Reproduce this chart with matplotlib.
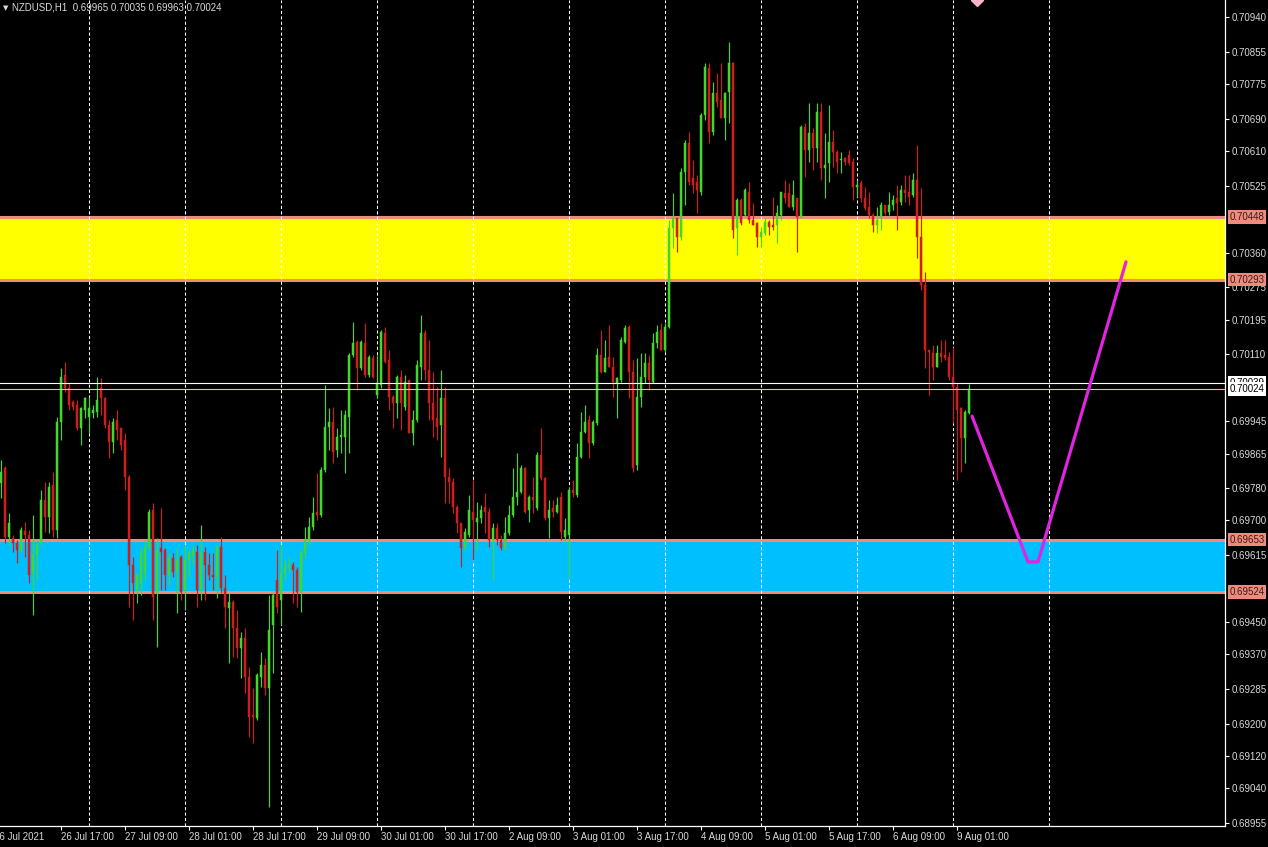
import numpy as np
import matplotlib
matplotlib.use("Agg")
import matplotlib.pyplot as plt
import matplotlib.transforms as mtransforms
import pandas as pd

plt.rcParams['font.family'] = ['Liberation Sans', 'DejaVu Sans']

# ---------------- data (prices in points, 1 point = 0.00001) ----------------
SYMBOL = "NZDUSD,H1"

opens_pts = [
    69792, 69829, 69659, 69657, 69645, 69627, 69674, 69664, 69571, 69615,
    69645, 69750, 69709, 69787, 69677, 69943, 70058, 70026, 69992, 69984,
    69928, 69972, 69955, 69965, 69967, 70026, 70002, 69935, 69893, 69948,
    69928, 69898, 69807, 69590, 69529, 69546, 69571, 69635, 69726, 69521,
    69632, 69627, 69566, 69608, 69573, 69610, 69529, 69603, 69615, 69622,
    69529, 69622, 69590, 69566, 69561, 69635, 69534, 69484, 69499, 69435,
    69386, 69411, 69315, 69221, 69214, 69315, 69344, 69288, 69443, 69553,
    69504, 69571, 69585, 69590, 69578, 69524, 69620, 69652, 69684, 69721,
    69714, 69824, 69930, 69943, 69874, 69906, 69906, 69955, 70108, 70140,
    70076, 70137, 70058, 70100, 70009, 70034, 70162, 70095, 70004, 69989,
    70053, 69980, 70046, 69915, 69948, 70078, 70162, 70071, 69989, 69952,
    69935, 70002, 69807, 69795, 69733, 69694, 69635, 69664, 69721, 69696,
    69706, 69733, 69721, 69652, 69682, 69652, 69632, 69669, 69714, 69758,
    69770, 69829, 69726, 69758, 69731, 69861, 69805, 69706, 69731, 69721,
    69758, 69659, 69664, 69775, 69763, 69856, 69918, 69948, 69891, 69940,
    70108, 70066, 70103, 70078, 70039, 70046, 70140, 70177, 70066, 69837,
    70004, 70053, 70088, 70041, 70137, 70169, 70120, 70177, 70420, 70445,
    70398, 70558, 70630, 70544, 70534, 70509, 70699, 70815, 70657, 70753,
    70736, 70691, 70755, 70827, 70420, 70489, 70452, 70509, 70440, 70433,
    70398, 70408, 70435, 70428, 70428, 70452, 70507, 70507, 70472, 70494,
    70448, 70669, 70613, 70654, 70618, 70706, 70568, 70581, 70632, 70608,
    70588, 70593, 70600, 70583, 70521, 70531, 70494, 70472, 70452, 70428,
    70448, 70477, 70460, 70477, 70494, 70484, 70514, 70509, 70502, 70539,
    70398, 70280, 70120, 70113, 70078, 70113, 70108, 70103, 70053, 70029,
    69977, 69903, 69965,
]

highs_pts = [
    69849, 69834, 69719, 69664, 69652, 69684, 69696, 69677, 69714, 69652,
    69775, 69795, 69795, 69820, 69955, 70076, 70090, 70039, 69997, 69997,
    69980, 70004, 70004, 69984, 70053, 70051, 70004, 69948, 69952, 69972,
    69928, 69915, 69812, 69610, 69571, 69635, 69652, 69728, 69743, 69657,
    69731, 69632, 69620, 69620, 69632, 69615, 69640, 69627, 69640, 69640,
    69689, 69635, 69620, 69620, 69640, 69659, 69566, 69521, 69504, 69480,
    69425, 69435, 69339, 69288, 69324, 69376, 69361, 69516, 69521, 69627,
    69640, 69603, 69610, 69598, 69585, 69627, 69684, 69709, 69758, 69817,
    69832, 70034, 69977, 69980, 69928, 69972, 69972, 70113, 70189, 70145,
    70145, 70186, 70108, 70108, 70108, 70169, 70177, 70120, 70009, 70058,
    70071, 70058, 70046, 69972, 70095, 70206, 70169, 70145, 70066, 70029,
    70071, 70029, 69829, 69805, 69738, 69694, 69682, 69763, 69800, 69746,
    69738, 69768, 69731, 69694, 69694, 69664, 69709, 69738, 69829, 69866,
    69837, 69832, 69763, 69807, 69869, 69928, 69807, 69750, 69750, 69758,
    69770, 69706, 69783, 69800, 69891, 69967, 69984, 69960, 69948, 70125,
    70169, 70145, 70181, 70103, 70053, 70152, 70181, 70181, 70095, 70100,
    70113, 70113, 70108, 70162, 70181, 70186, 70186, 70440, 70507, 70445,
    70568, 70637, 70657, 70588, 70551, 70704, 70827, 70827, 70780, 70802,
    70827, 70755, 70879, 70829, 70494, 70494, 70519, 70534, 70482, 70435,
    70423, 70445, 70440, 70497, 70477, 70509, 70539, 70531, 70539, 70494,
    70674, 70679, 70728, 70667, 70728, 70728, 70654, 70723, 70662, 70613,
    70608, 70595, 70613, 70593, 70539, 70539, 70521, 70509, 70457, 70472,
    70484, 70477, 70509, 70502, 70526, 70526, 70551, 70551, 70556, 70625,
    70519, 70312, 70120, 70132, 70132, 70145, 70145, 70115, 70127, 70039,
    69980, 69972, 70035,
]

lows_pts = [
    69755, 69645, 69640, 69622, 69595, 69622, 69610, 69546, 69467, 69553,
    69640, 69672, 69669, 69659, 69657, 69898, 70017, 69972, 69972, 69923,
    69886, 69952, 69915, 69952, 69955, 69960, 69928, 69854, 69866, 69898,
    69874, 69775, 69487, 69455, 69497, 69516, 69553, 69627, 69455, 69388,
    69529, 69529, 69541, 69561, 69472, 69504, 69480, 69561, 69590, 69487,
    69504, 69504, 69553, 69529, 69509, 69521, 69435, 69349, 69364, 69361,
    69312, 69275, 69167, 69152, 69209, 69290, 69270, 68994, 69324, 69472,
    69443, 69553, 69573, 69497, 69487, 69475, 69608, 69640, 69677, 69701,
    69709, 69820, 69874, 69842, 69856, 69866, 69817, 69866, 70103, 70021,
    70071, 70053, 70053, 70051, 70002, 70026, 70088, 69972, 69928, 69952,
    69923, 69972, 69915, 69886, 69943, 70046, 70046, 69948, 69906, 69898,
    69856, 69743, 69743, 69719, 69669, 69585, 69627, 69659, 69603, 69627,
    69694, 69669, 69635, 69553, 69640, 69627, 69627, 69664, 69709, 69738,
    69768, 69719, 69696, 69719, 69726, 69800, 69701, 69657, 69709, 69719,
    69652, 69647, 69561, 69758, 69758, 69854, 69915, 69854, 69886, 69935,
    70063, 70066, 70078, 70004, 69952, 70041, 70137, 70002, 69820, 69824,
    69980, 70039, 70021, 70039, 70125, 70120, 70115, 70174, 70371, 70361,
    70391, 70477, 70526, 70507, 70457, 70502, 70686, 70630, 70649, 70719,
    70691, 70637, 70679, 70396, 70354, 70428, 70448, 70433, 70428, 70374,
    70374, 70403, 70403, 70416, 70384, 70440, 70482, 70472, 70465, 70361,
    70445, 70546, 70583, 70563, 70583, 70539, 70494, 70534, 70571, 70556,
    70556, 70576, 70576, 70489, 70497, 70484, 70465, 70445, 70411, 70408,
    70416, 70452, 70452, 70465, 70416, 70477, 70484, 70477, 70497, 70347,
    70268, 70076, 70009, 70046, 70078, 70090, 70095, 70046, 69940, 69800,
    69820, 69842, 69963,
]

closes_pts = [
    69820, 69659, 69694, 69645, 69627, 69677, 69664, 69566, 69615, 69640,
    69750, 69709, 69783, 69677, 69943, 70053, 70026, 69984, 69980, 69928,
    69977, 70002, 69977, 69972, 69997, 70002, 69935, 69893, 69943, 69923,
    69886, 69807, 69590, 69546, 69566, 69620, 69635, 69721, 69512, 69627,
    69622, 69566, 69608, 69573, 69603, 69524, 69603, 69620, 69627, 69529,
    69620, 69590, 69566, 69561, 69635, 69534, 69487, 69499, 69435, 69386,
    69411, 69315, 69216, 69216, 69320, 69344, 69288, 69430, 69516, 69487,
    69571, 69585, 69590, 69578, 69524, 69622, 69652, 69684, 69719, 69714,
    69824, 69930, 69943, 69869, 69906, 69911, 69960, 70108, 70137, 70076,
    70140, 70058, 70103, 70053, 70039, 70164, 70090, 70004, 69989, 70053,
    69989, 70041, 69915, 69948, 70083, 70162, 70071, 69989, 69948, 69930,
    70002, 69807, 69795, 69733, 69694, 69632, 69672, 69726, 69701, 69706,
    69726, 69721, 69652, 69682, 69652, 69632, 69669, 69714, 69758, 69770,
    69829, 69721, 69758, 69750, 69861, 69805, 69706, 69726, 69721, 69738,
    69672, 69677, 69775, 69768, 69856, 69918, 69943, 69891, 69943, 70108,
    70066, 70100, 70078, 70041, 70051, 70145, 70174, 70066, 69829, 70004,
    70053, 70088, 70046, 70137, 70164, 70120, 70177, 70420, 70445, 70398,
    70558, 70630, 70534, 70526, 70514, 70699, 70817, 70657, 70753, 70731,
    70691, 70753, 70827, 70416, 70489, 70433, 70514, 70440, 70428, 70398,
    70411, 70435, 70423, 70423, 70457, 70509, 70494, 70472, 70502, 70448,
    70669, 70613, 70654, 70618, 70706, 70568, 70576, 70632, 70608, 70583,
    70590, 70583, 70581, 70521, 70526, 70494, 70470, 70452, 70428, 70440,
    70477, 70457, 70477, 70489, 70482, 70514, 70507, 70497, 70539, 70398,
    70280, 70120, 70115, 70078, 70113, 70103, 70100, 70053, 70029, 69972,
    69903, 69967, 70024,
]

# trading sessions: (date, first hour, number of H1 bars)
sessions = [
    ("2021-07-26", 2, 22), ("2021-07-27", 0, 24), ("2021-07-28", 0, 24),
    ("2021-07-29", 0, 24), ("2021-07-30", 0, 24), ("2021-08-02", 0, 24),
    ("2021-08-03", 0, 24), ("2021-08-04", 0, 24), ("2021-08-05", 0, 24),
    ("2021-08-06", 0, 24), ("2021-08-09", 0, 5),
]

time_label_stamps = [
    "2021-07-26 17:00", "2021-07-27 09:00", "2021-07-28 01:00", "2021-07-28 17:00",
    "2021-07-29 09:00", "2021-07-30 01:00", "2021-07-30 17:00", "2021-08-02 09:00",
    "2021-08-03 01:00", "2021-08-03 17:00", "2021-08-04 09:00", "2021-08-05 01:00",
    "2021-08-05 17:00", "2021-08-06 09:00", "2021-08-09 01:00",
]
first_date_label = "26 Jul 2021"

price_tick_values = [0.70940, 0.70855, 0.70775, 0.70690, 0.70610, 0.70525, 0.70360,
                     0.70275, 0.70195, 0.70110, 0.69945, 0.69865, 0.69780, 0.69700,
                     0.69615, 0.69450, 0.69370, 0.69285, 0.69200, 0.69120, 0.69040,
                     0.68955]

resistance_zone = (0.70293, 0.70448)
support_zone = (0.69524, 0.69653)
ask_level = 0.70039
bid_level = 0.70024

# hand-drawn projection path (bar position, price)
path_bars = [242.75, 256.75, 259.25, 281.25]
path_prices = [0.69957, 0.69598, 0.69598, 0.70337]
marker_bar, marker_price = 244.0, 0.70982

# ---------------- build ----------------
PT = 1e-5
opens = np.array(opens_pts) * PT
highs = np.array(highs_pts) * PT
lows = np.array(lows_pts) * PT
closes = np.array(closes_pts) * PT

times = []
for d, h0, n in sessions:
    base = pd.Timestamp(d)
    times += [base + pd.Timedelta(hours=h0 + j) for j in range(n)]
times = pd.DatetimeIndex(times)
x = np.arange(len(times))

tick_pos = [times.get_loc(pd.Timestamp(s)) for s in time_label_stamps]
tick_txt = [f"{pd.Timestamp(s).day} {pd.Timestamp(s).strftime('%b %H:%M')}" for s in time_label_stamps]

day_starts = [i for i in range(len(times)) if times[i].hour == 0]
grid_pos = day_starts + [day_starts[-1] + 24]

GREEN = '#43d62c'
RED = '#cf1e1e'
TXT = '#d9d9d9'
CORAL = '#f08a7c'

W, H = 1268, 847
fig = plt.figure(figsize=(W / 100, H / 100), dpi=100, facecolor='black')
ax = fig.add_axes([0, 21 / H, 1225 / W, 826 / H], facecolor='black')
ax.set_xlim(-0.25, 306.0)
ax.set_ylim(0.689476, 0.709819)

# zones
for lo, hi, col in [(resistance_zone[0], resistance_zone[1], '#ffff00'),
                    (support_zone[0], support_zone[1], '#00bfff')]:
    ax.axhspan(lo, hi, color=col, zorder=1, lw=0)
    ax.axhline(lo, color=CORAL, lw=2.2, zorder=1.5)
    ax.axhline(hi, color=CORAL, lw=2.2, zorder=1.5)

# day grid
for g in grid_pos:
    ax.axvline(g, color='white', lw=0.75, ls=(0, (3, 2.2)), zorder=2)

# candles
up = closes >= opens
cols = np.where(up, GREEN, RED)
ax.vlines(x, lows, highs, colors=cols, lw=0.85, zorder=4)
ax.bar(x, np.abs(closes - opens), bottom=np.minimum(opens, closes), width=0.74,
       color=cols, edgecolor=cols, linewidth=0.35, zorder=5)

# price lines
ax.axhline(ask_level, color='white', lw=0.8, zorder=6)
ax.axhline(bid_level, color='#f4b8b0', lw=0.8, zorder=6)

# projection path + marker
ax.plot(path_bars, path_prices, color='#e024e0', lw=2.3, zorder=7,
        solid_capstyle='round', solid_joinstyle='round')
ax.plot([marker_bar], [marker_price], marker='D', ms=6.5, color='#ffb3c6',
        zorder=8, clip_on=True, ls='none')

# axes styling
for s in ['top', 'left']:
    ax.spines[s].set_visible(False)
for s in ['right', 'bottom']:
    ax.spines[s].set_color('white')
    ax.spines[s].set_linewidth(0.9)

ax.yaxis.tick_right()
ax.set_yticks(price_tick_values)
ax.set_yticklabels([f"{v:.5f}" for v in price_tick_values])
ax.tick_params(axis='y', direction='out', length=3, width=0.8, colors='white',
               labelcolor=TXT, labelsize=7, pad=2)
ax.set_xticks(tick_pos)
ax.set_xticklabels(tick_txt)
ax.tick_params(axis='x', direction='out', length=3, width=0.8, colors='white',
               labelcolor=TXT, labelsize=7, pad=1.5)
for lbl in ax.get_xticklabels():
    lbl.set_ha('left')

# first date label at the very left
trans_lbl = mtransforms.offset_copy(ax.get_xaxis_transform(), fig=fig, x=0, y=-4.5, units='points')
ax.text(-1.75, 0, first_date_label, transform=trans_lbl, ha='left', va='top',
        fontsize=7, color=TXT, clip_on=False)

# level boxes on the price scale
ytrans = mtransforms.offset_copy(ax.get_yaxis_transform(), fig=fig, x=3.2, y=0, units='points')
def level_box(val, face, tc):
    ax.text(1.0, val, f"{val:.5f}", transform=ytrans, ha='left', va='center',
            fontsize=7, color=tc, zorder=20, clip_on=False,
            bbox=dict(boxstyle='square,pad=0.18', fc=face, ec=face, lw=0))

level_box(ask_level, 'white', 'black')
level_box(bid_level, 'white', 'black')
for v in [resistance_zone[1], resistance_zone[0], support_zone[1], support_zone[0]]:
    level_box(v, CORAL, '#3a1a1a')

# header
fig.text(3 / W, 1 - 8 / H, '\u25bc', fontsize=5, color=TXT, va='center', ha='left',
         family=['DejaVu Sans'])
o, h, l, c = opens[-1], highs[-1], lows[-1], closes[-1]
fig.text(12 / W, 1 - 8 / H, f"{SYMBOL}  {o:.5f} {h:.5f} {l:.5f} {c:.5f}",
         fontsize=7, color=TXT, va='center', ha='left')

fig.savefig('out.png', dpi=100, facecolor='black')
